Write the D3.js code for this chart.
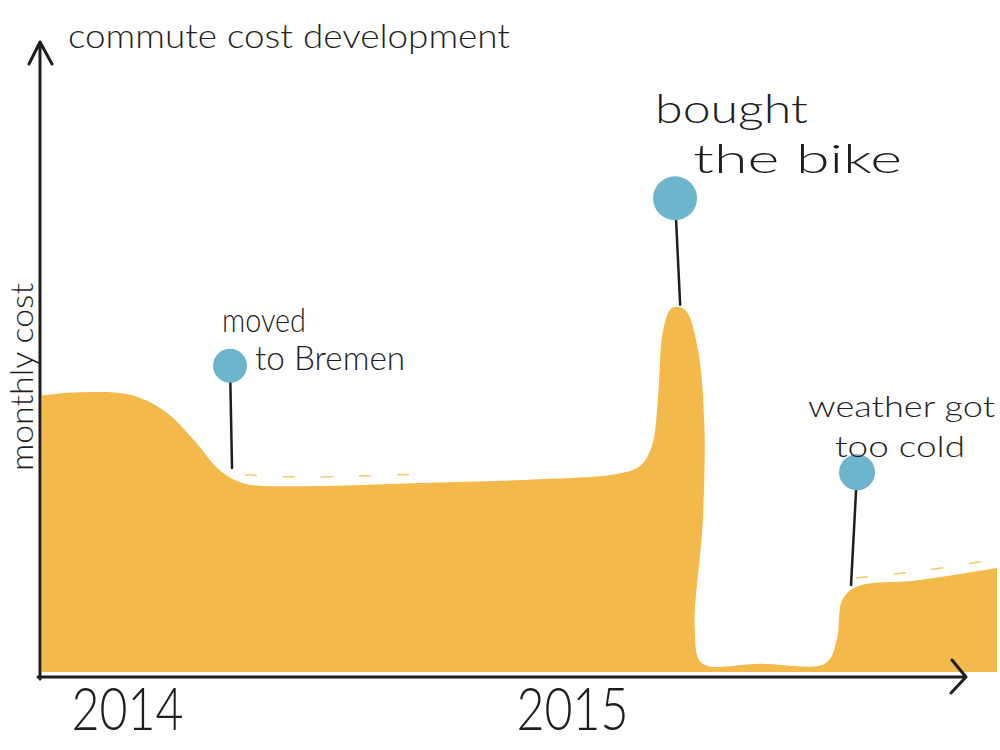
<!DOCTYPE html>
<html>
<head>
<meta charset="utf-8">
<script src="https://cdn.jsdelivr.net/npm/d3@7"></script>
<style>
  body { margin: 0; background: #fff; }
  text { font-family: Lato, "Open Sans", sans-serif; font-weight: 300; fill: #1e1e1e; }
</style>
</head>
<body>
<div class="chart"></div>
<script>
// chart data (fractional years, monthly cost in arbitrary units)
var costYears = [2013.809, 2013.894, 2014.007, 2014.085, 2014.153, 2014.209, 2014.265, 2014.389,
  2014.658, 2014.928, 2015.097, 2015.153, 2015.180, 2015.193, 2015.205, 2015.225, 2015.254,
  2015.281, 2015.297, 2015.294, 2015.276, 2015.292, 2015.422, 2015.570, 2015.595, 2015.607,
  2015.638, 2015.782, 2015.955];
var costValues = [43.9, 44.4, 44.0, 41.4, 36.6, 32.0, 29.9, 29.5,
  30.0, 30.6, 31.4, 32.7, 36.0, 43.2, 54.3, 57.8, 57.5,
  51.9, 40.0, 24.1, 6.7, 1.4, 1.3, 1.4, 5.1, 11.4,
  13.5, 14.6, 16.5];
var tickYears = [2014, 2015];
var tickLabels = ["2014", "2015"];
var eventLabels = [["moved", "to Bremen"], ["bought", "the bike"], ["weather got", "too cold"]];
var eventYears = [2014.2315, 2015.2315, 2015.6405];
var pinValues = [48.6, 75.2, 31.7];
var pinBaseYears = [2014.236, 2015.243, 2015.627];
var pinBaseValues = [32.4, 58.3, 13.8];

var svgWidth = 1000;
var svgHeight = 750;

var svg = d3.select(".chart")
  .append("svg")
  .attr("width", svgWidth)
  .attr("height", svgHeight);

var xScale = d3.scaleLinear().domain([2013.8045, 2015.955]).range([40, 997]);
var yScale = d3.scaleLinear().domain([0, 100]).range([672, 42]);

var orange = "#f3b94b";
var blue = "#6db4cd";
var ink = "#1e1e1e";

var costData = costYears.map((y, i) => ({ year: y, value: costValues[i] }));

// the filled cost area
var area = d3.area()
  .x(d => xScale(d.year))
  .y0(yScale(0))
  .y1(d => yScale(d.value))
  .curve(d3.curveCatmullRom.alpha(0.5));

svg.append("path")
  .datum(costData)
  .attr("d", area)
  .attr("fill", orange);

// faint sketch dashes over the flat stretches
var sketchLine = d3.line()
  .x(d => xScale(d.year))
  .y(d => yScale(d.value) - 9)
  .curve(d3.curveCatmullRom.alpha(0.5));

[[2014.26, 2014.70], [2015.63, 2015.955]].forEach(function(r) {
  svg.append("path")
    .datum(costData.filter(d => d.year >= r[0] && d.year <= r[1]))
    .attr("d", sketchLine)
    .attr("fill", "none")
    .attr("stroke", orange)
    .attr("stroke-width", 1.5)
    .attr("stroke-dasharray", "12 26")
    .attr("opacity", 0.8);
});

// axes with arrow heads
var axisY = 677;
svg.append("path")
  .attr("d", `M40,${axisY + 2} L40,42 M29,64 L40,42 L52,64`)
  .attr("fill", "none")
  .attr("stroke", ink)
  .attr("stroke-width", 3)
  .attr("stroke-linecap", "round")
  .attr("stroke-linejoin", "round");

svg.append("path")
  .attr("d", `M38,${axisY} L966,${axisY} M952,${axisY - 17} L966,${axisY} L951,${axisY + 16}`)
  .attr("fill", "none")
  .attr("stroke", ink)
  .attr("stroke-width", 3)
  .attr("stroke-linecap", "round")
  .attr("stroke-linejoin", "round");

var bottomAxis = d3.axisBottom(xScale)
  .tickValues(tickYears)
  .tickSize(0)
  .tickFormat((d, i) => tickLabels[i]);

var xAxisG = svg.append("g")
  .attr("transform", `translate(0, ${axisY})`)
  .call(bottomAxis);
xAxisG.select(".domain").remove();
xAxisG.selectAll("text")
  .attr("y", 0)
  .attr("dy", 0)
  .attr("transform", "translate(0, 53)")
  .attr("font-size", 60)
  .attr("textLength", 112)
  .attr("lengthAdjust", "spacingAndGlyphs")
  .style("font-family", "Lato, sans-serif")
  .style("font-weight", 300)
  .attr("fill", ink);

// title and axis label
svg.append("text")
  .attr("x", 68)
  .attr("y", 48)
  .attr("font-size", 33)
  .attr("textLength", 442)
  .attr("lengthAdjust", "spacingAndGlyphs")
  .text("commute cost development");

svg.append("text")
  .attr("transform", "translate(33, 471) rotate(-90)")
  .attr("font-size", 31)
  .attr("textLength", 188)
  .attr("lengthAdjust", "spacingAndGlyphs")
  .text("monthly cost");

// event pins
var pinStyles = [
  { r: 17, size: 33, lines: [[-8, -34, 84], [25, 4, 150]] },
  { r: 22, size: 40, lines: [[-20, -75, 153], [18, -25, 209]] },
  { r: 18, size: 30, lines: [[-49, -55, 187], [-22, -15, 130]] }
];

eventYears.forEach(function(yr, i) {
  var cx = xScale(yr);
  var cy = yScale(pinValues[i]);
  var st = pinStyles[i];

  svg.append("line")
    .attr("x1", cx)
    .attr("y1", cy)
    .attr("x2", xScale(pinBaseYears[i]))
    .attr("y2", yScale(pinBaseValues[i]))
    .attr("stroke", ink)
    .attr("stroke-width", 2.5)
    .attr("stroke-linecap", "round");

  svg.append("circle")
    .attr("cx", cx)
    .attr("cy", cy)
    .attr("r", st.r)
    .attr("fill", blue);

  eventLabels[i].forEach(function(label, j) {
    var l = st.lines[j];
    svg.append("text")
      .attr("x", cx + l[0])
      .attr("y", cy + l[1])
      .attr("font-size", st.size)
      .attr("textLength", l[2])
      .attr("lengthAdjust", "spacingAndGlyphs")
      .text(label);
  });
});
</script>
</body>
</html>
